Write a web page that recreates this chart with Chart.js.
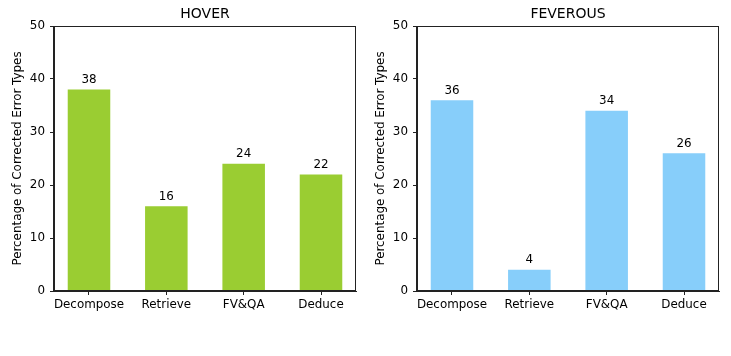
<!DOCTYPE html>
<html>
<head>
<meta charset="utf-8">
<script src="https://cdn.jsdelivr.net/npm/chart.js@4"></script>
<style>
  html, body { margin: 0; padding: 0; background: #fff; }
  #wrap { position: relative; width: 731px; height: 356px; overflow: hidden; }
  .pane { position: absolute; top: 0; }
</style>
</head>
<body>
<div id="wrap">
  <div class="pane" style="left:0px"><canvas id="c1" width="365" height="356"></canvas></div>
  <div class="pane" style="left:365px"><canvas id="c2" width="366" height="356"></canvas></div>
</div>
<script>
const categories = ['Decompose', 'Retrieve', 'FV&QA', 'Deduce'];
const hoverValues = [38, 16, 24, 22];
const feverousValues = [36, 4, 34, 26];
const yTickValues = [0, 10, 20, 30, 40, 50];
const panelTitles = ['HOVER', 'FEVEROUS'];
const yAxisLabel = 'Percentage of Corrected Error Types';

Chart.defaults.font.family = "'DejaVu Sans', sans-serif";
Chart.defaults.color = '#000';

const FONT = 11.9;

const spinePlugin = {
  id: 'spines',
  afterDraw(chart) {
    const a = chart.chartArea, ctx = chart.ctx;
    ctx.save();
    ctx.strokeStyle = '#222';
    ctx.lineWidth = 1;
    ctx.strokeRect(Math.round(a.left) - 0.5, Math.round(a.top) + 0.5,
                   Math.round(a.right) - Math.round(a.left), Math.round(a.bottom) - Math.round(a.top) - 1);
    ctx.restore();
  }
};

const valueLabelPlugin = {
  id: 'valueLabels',
  afterDatasetsDraw(chart) {
    const ctx = chart.ctx;
    ctx.save();
    ctx.font = FONT + "px 'DejaVu Sans'";
    ctx.fillStyle = '#000';
    ctx.textAlign = 'center';
    ctx.textBaseline = 'alphabetic';
    chart.data.datasets.forEach((ds, di) => {
      chart.getDatasetMeta(di).data.forEach((bar, i) => {
        ctx.fillText(String(ds.data[i].y), bar.x, bar.y - 6.5);
      });
    });
    ctx.restore();
  }
};

function makeChart(id, title, values, color, yWidth, padRight, yTitlePad) {
  return new Chart(document.getElementById(id), {
    type: 'bar',
    data: {
      datasets: [{
        data: values.map((v, i) => ({ x: i, y: v })),
        backgroundColor: color,
        borderWidth: 0,
        barPercentage: 0.55,
        categoryPercentage: 1
      }]
    },
    options: {
      responsive: false,
      animation: false,
      devicePixelRatio: 1,
      layout: { padding: { left: 0, right: padRight, top: 0, bottom: 0 } },
      plugins: {
        legend: { display: false },
        tooltip: { enabled: false },
        title: {
          display: true,
          text: title,
          fullSize: false,
          color: '#000',
          font: { size: 14, weight: 'normal' },
          padding: { top: 6.4, bottom: 2.8 }
        }
      },
      scales: {
        x: {
          type: 'linear',
          min: -0.4525,
          max: categories.length - 1 + 0.4525,
          offset: false,
          grid: { display: true, drawOnChartArea: false, drawTicks: true, tickLength: 4, color: '#222', offset: false },
          border: { display: true, color: '#222', width: 1 },
          afterBuildTicks(scale) { scale.ticks = categories.map((_, i) => ({ value: i })); },
          afterFit(scale) { scale.height = 65; },
          ticks: {
            autoSkip: false,
            maxRotation: 0,
            padding: 3,
            color: '#000',
            font: { size: FONT },
            callback: (v) => categories[v]
          }
        },
        y: {
          min: 0,
          max: 50,
          grid: { display: true, drawOnChartArea: false, drawTicks: true, tickLength: 4, color: '#222' },
          border: { display: true, color: '#222', width: 1 },
          afterBuildTicks(scale) { scale.ticks = yTickValues.map(v => ({ value: v })); },
          afterFit(scale) { scale.width = yWidth; },
          title: {
            display: true,
            text: yAxisLabel,
            color: '#000',
            font: { size: FONT },
            padding: { top: yTitlePad, bottom: 0 }
          },
          ticks: {
            padding: 5,
            color: '#000',
            font: { size: FONT }
          }
        }
      }
    },
    plugins: [spinePlugin, valueLabelPlugin]
  });
}

makeChart('c1', panelTitles[0], hoverValues, '#9ACD32', 54, 9, 11.2);
makeChart('c2', panelTitles[1], feverousValues, '#87CEFA', 52, 12, 8.9);
</script>
</body>
</html>
